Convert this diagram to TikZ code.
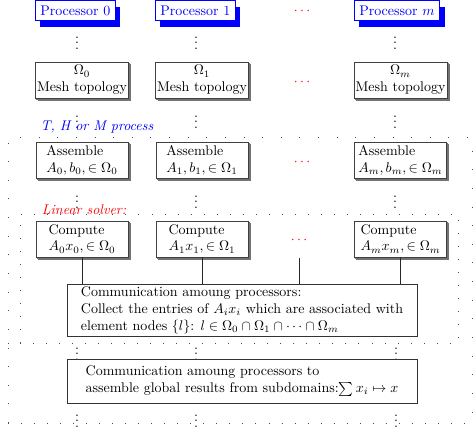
\documentclass[tikz,border=0pt]{standalone}
\usetikzlibrary{shadows}
\begin{document}
\begin{tikzpicture}[x=0.714pt,y=-0.714pt,
  procbox/.style={draw=blue, fill=white, text=blue, inner xsep=3.6pt, inner ysep=1pt,
    minimum height=14.3pt, anchor=west,
    drop shadow={shadow xshift=3.6pt, shadow yshift=-4.3pt, fill=blue, opacity=1}},
  stepbox/.style={draw=black!75, fill=white, line width=0.5pt, minimum width=65.7pt,
    minimum height=25.5pt, inner xsep=1pt, inner ysep=1.5pt,
    double copy shadow={shadow xshift=0.8pt, shadow yshift=-0.8pt, draw=black!55}},
  commbox/.style={draw=black!80, fill=white, line width=0.5pt, minimum width=250pt,
    align=left, inner xsep=3pt, inner ysep=1pt},
  reddots/.style={color=red, text=red, inner sep=0pt},
  vd/.style={inner sep=0pt},
  link/.style={draw=black!85, line width=0.5pt},
  outerdots/.style={draw=black!70, line width=0.7pt, dash pattern=on 0.7pt off 12.6pt},
  innerdots/.style={draw=black!70, line width=0.7pt, dash pattern=on 0.7pt off 8.6pt}
]
\useasboundingbox (0,0) rectangle (474,440);

% red dots between columns (drawn first)
\node[reddots] (d1) at (302,11) {$\cdots$};
\node[reddots] (d2) at (302,82) {$\cdots$};
\node[reddots] (d3) at (302,162) {$\cdots$};
\node[reddots, minimum height=25.5pt] (d4) at (299,240) {$\cdots$};

% dotted frames
\draw[outerdots] (8,423) -- (8,137) -- (472,137) -- (472,423);
\draw[innerdots] (8,423) -- (472,423);
\draw[innerdots] (20,343) rectangle (458,214);
\draw[innerdots] (8,343) -- (20,343);

% processors
\node[procbox] (p0) at (35,10.5) {Processor 0};
\node[procbox] (p1) at (155,10.5) {Processor 1};
\node[procbox] (pm) at (354,10.5) {Processor $m$};

% vdots row 1
\node[vd] (v10) at (77,39) {$\vdots$};
\node[vd] (v11) at (196,39) {$\vdots$};
\node[vd] (v1m) at (395,39) {$\vdots$};

% mesh topology
\node[stepbox, align=center] (o0) at (82,80) {$\Omega_0$\\Mesh topology};
\node[stepbox, align=center] (o1) at (202,80) {$\Omega_1$\\Mesh topology};
\node[stepbox, align=center] (om) at (400.5,80) {$\Omega_m$\\Mesh topology};

% vdots row 2
\node[vd] (v20) at (77,118) {$\vdots$};
\node[vd] (v21) at (196,118) {$\vdots$};
\node[vd] (v2m) at (395,118) {$\vdots$};

\node[text=blue, inner sep=0pt] (tlabel) at (97,127) {\textit{T, H or M process}};

% assemble
\node[stepbox, align=left] (a0) at (82,160) {Assemble\\$A_0, b_0, \in \Omega_0$};
\node[stepbox, align=left] (a1) at (202,160) {Assemble\\$A_1, b_1, \in \Omega_1$};
\node[stepbox, align=left] (am) at (400.5,160) {Assemble\\$A_m, b_m, \in \Omega_m$};

% vdots row 3
\node[vd] (v30) at (77,198) {$\vdots$};
\node[vd] (v31) at (196,198) {$\vdots$};
\node[vd] (v3m) at (395,198) {$\vdots$};

\node[text=red, inner sep=0pt] (llabel) at (84,210) {\textit{Linear solver:}};

% compute
\node[stepbox, align=left] (c0) at (82,239) {Compute\\$A_0x_0, \in \Omega_0$};
\node[stepbox, align=left] (c1) at (202,239) {Compute\\$A_1x_1, \in \Omega_1$};
\node[stepbox, align=left] (cm) at (400.5,239) {Compute\\$A_mx_m, \in \Omega_m$};

% communication 1
\node[commbox, minimum height=37pt] (m1) at (242,310) {Communication amoung processors:\\
Collect the entries of $A_ix_i$ which are associated with\\
element nodes $\{l\}$: $l\in\Omega_0\cap\Omega_1\cap\cdots\cap\Omega_m$};

\draw[link] (c0.south) -- (c0.south |- m1.north);
\draw[link] (c1.south) -- (c1.south |- m1.north);
\draw[link] (d4.south) -- (d4.south |- m1.north);
\draw[link] (cm.south) -- (cm.south |- m1.north);

% vdots row 4
\node[vd] (v40) at (77,350) {$\vdots$};
\node[vd] (v41) at (196,350) {$\vdots$};
\node[vd] (v4m) at (396,350) {$\vdots$};

% communication 2
\node[commbox, minimum height=31.4pt] (m2) at (242,381) {Communication amoung processors to\\
assemble global results from subdomains:$\sum x_i\mapsto x$};

% vdots row 5
\node[vd] (v50) at (77,417) {$\vdots$};
\node[vd] (v51) at (196,417) {$\vdots$};
\node[vd] (v5m) at (396,417) {$\vdots$};
\end{tikzpicture}
\end{document}
